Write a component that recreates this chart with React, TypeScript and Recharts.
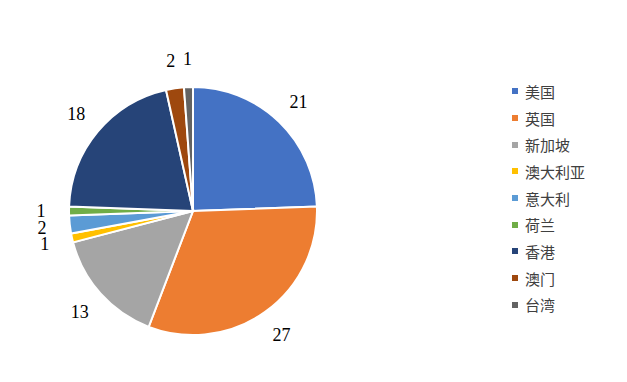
import React from "react";
import { PieChart, Pie, Cell, Legend } from "recharts";

const REGIONS = ["美国", "英国", "新加坡", "澳大利亚", "意大利", "荷兰", "香港", "澳门", "台湾"];
const COUNTS = [21, 27, 13, 1, 2, 1, 18, 2, 1];
const COLORS = [
  "#4472C4",
  "#ED7D31",
  "#A5A5A5",
  "#FFC000",
  "#5B9BD5",
  "#70AD47",
  "#264478",
  "#9E480E",
  "#636363",
];

const data = REGIONS.map((name, i) => ({ name, value: COUNTS[i] }));

const RADIAN = Math.PI / 180;

function renderLabel(props: any) {
  const { cx, cy, midAngle, outerRadius, value } = props;
  const r = outerRadius + 28;
  const x = cx + r * Math.cos(-midAngle * RADIAN);
  const y = cy + r * Math.sin(-midAngle * RADIAN);
  return (
    <text
      x={x}
      y={y}
      textAnchor="middle"
      dominantBaseline="central"
      fill="#000"
      fontSize={18}
      fontFamily="'Liberation Serif', serif"
    >
      {value}
    </text>
  );
}

function renderLegend() {
  return (
    <div style={{ fontFamily: "'Noto Sans CJK SC', sans-serif", fontSize: 15, color: "#404040" }}>
      {REGIONS.map((name, i) => (
        <div key={name} style={{ height: 26.7, display: "flex", alignItems: "center" }}>
          <span
            style={{
              display: "inline-block",
              width: 6,
              height: 6,
              background: COLORS[i],
              marginRight: 7,
            }}
          />
          <span>{name}</span>
        </div>
      ))}
    </div>
  );
}

export default function App() {
  return (
    <div style={{ position: "absolute", left: 0, top: 0, background: "#fff" }}>
      <PieChart width={627} height={382}>
        <Pie
          data={data}
          dataKey="value"
          nameKey="name"
          cx={188}
          cy={206}
          outerRadius={124}
          startAngle={90}
          endAngle={-270}
          stroke="#fff"
          strokeWidth={2}
          label={renderLabel}
          labelLine={false}
          isAnimationActive={false}
        >
          {data.map((d, i) => (
            <Cell key={d.name} fill={COLORS[i]} />
          ))}
        </Pie>
        <Legend
          content={renderLegend}
          wrapperStyle={{ left: 512, top: 78, width: 110 }}
        />
      </PieChart>
    </div>
  );
}
